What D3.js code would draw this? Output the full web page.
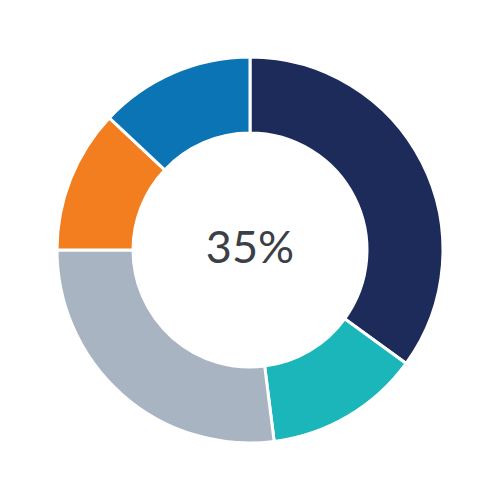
<!DOCTYPE html>
<html>
<head>
<meta charset="utf-8">
<script src="https://cdn.jsdelivr.net/npm/d3@7"></script>
<style>
  body { margin: 0; background: #fff; }
</style>
</head>
<body>
<div id="chart"></div>
<script>
const categories = ['A', 'B', 'C', 'D', 'E'];
const values = [35, 13, 27, 12, 13];
const colors = ['#1c2b5a', '#1bb6b9', '#a8b4c2', '#f27e20', '#0b74b4'];
const centerLabel = '35%';

const width = 500, height = 500;
const outerR = 193, innerR = 117;

const svg = d3.select('#chart').append('svg')
    .attr('width', width)
    .attr('height', height);

const g = svg.append('g').attr('transform', 'translate(250,250)');

const pie = d3.pie().sort(null).value(d => d.v);
const arc = d3.arc().innerRadius(innerR).outerRadius(outerR);

const data = categories.map((c, i) => ({ c: c, v: values[i], color: colors[i] }));

g.selectAll('path').data(pie(data))
    .enter()
    .append('path')
    .attr('d', arc)
    .attr('fill', d => d.data.color)
    .attr('stroke', '#fff')
    .attr('stroke-width', 3);

g.append('text')
    .text(centerLabel)
    .attr('x', 0)
    .attr('y', 13)
    .attr('text-anchor', 'middle')
    .attr('font-family', 'Lato, "Open Sans", sans-serif')
    .attr('font-size', 45)
    .attr('fill', '#3b3f47');
</script>
</body>
</html>
